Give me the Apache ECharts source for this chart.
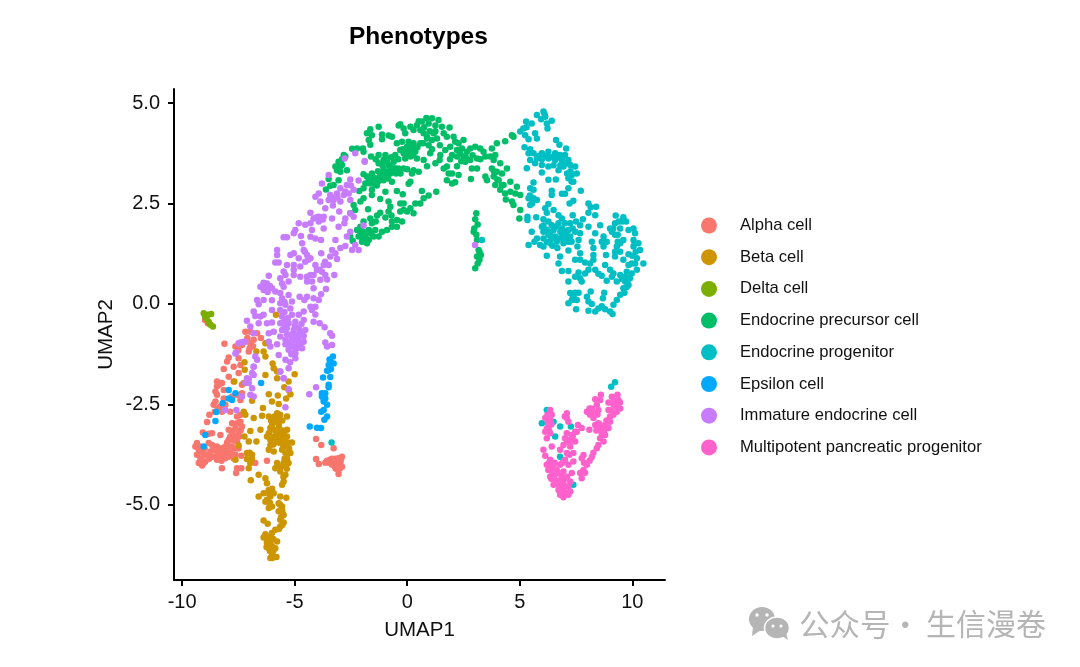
<!DOCTYPE html>
<html>
<head>
<meta charset="utf-8">
<style>html,body{margin:0;padding:0;background:#fff}#chart{width:1080px;height:667px}</style>
<script src="https://cdn.jsdelivr.net/npm/echarts@6/dist/echarts.min.js"></script>
</head>
<body>
<div id="chart"></div>
<script>
// UMAP embedding of pancreatic cells, one array of [UMAP1, UMAP2] per phenotype.
const alphaCell = [[-9.34,-3.46],[-9.41,-3.55],[-9.26,-3.63],[-9.34,-3.75],[-9.19,-3.88],[-9.26,-3.96],[-9.04,-3.96],[-9.11,-4.02],[-8.97,-3.92],[-8.82,-3.46],[-8.67,-3.51],[-8.60,-3.59],[-8.74,-3.67],[-8.67,-3.80],[-8.52,-3.80],[-8.45,-3.88],[-8.30,-3.80],[-8.23,-3.59],[-8.08,-3.55],[-8.00,-3.67],[-7.86,-3.71],[-7.78,-3.55],[-7.63,-3.75],[-8.08,-3.84],[-8.23,-4.09],[-7.56,-4.09],[-7.37,-4.09],[-7.60,-4.21],[-7.37,-3.78],[-7.71,-3.84],[-7.93,-3.38],[-7.86,-3.30],[-7.78,-3.17],[-7.63,-3.09],[-7.56,-2.97],[-7.41,-2.93],[-7.34,-3.05],[-7.63,-3.30],[-7.56,-3.42],[-7.93,-3.13],[-7.78,-2.97],[-8.30,-3.26],[-8.67,-3.22],[-8.82,-3.23],[-9.08,-3.20],[-8.89,-2.94],[-8.79,-2.76],[-8.55,-2.68],[-8.23,-2.68],[-7.86,-2.68],[-8.60,-2.51],[-8.52,-2.43],[-8.30,-2.55],[-8.08,-2.51],[-8.45,-2.26],[-8.52,-2.18],[-8.37,-2.01],[-8.23,-1.97],[-8.45,-1.93],[-8.15,-2.14],[-7.93,-1.81],[-7.71,-1.93],[-8.15,-1.62],[-7.71,-1.56],[-8.00,-1.43],[-7.93,-1.33],[-7.49,-1.35],[-7.41,-1.52],[-7.49,-1.72],[-7.34,-2.01],[-7.34,-2.22],[-7.56,-2.26],[-7.78,-2.30],[-7.63,-1.06],[-7.34,-1.02],[-6.97,-0.98],[-7.04,-1.18],[-7.19,-0.69],[-6.97,-0.69],[-6.67,-0.73],[-6.82,-0.89],[-8.12,-0.99],[-7.41,-2.76],[-7.56,-2.80],[-6.23,-3.90],[-6.75,-3.96],[-7.41,-2.39],[-8.15,-2.35],[-9.04,-3.75],[-8.37,-3.63],[-8.45,-3.55],[-8.15,-3.71],[-7.49,-3.17],[-4.05,-3.36],[-3.82,-3.51],[-3.27,-3.59],[-4.05,-3.86],[-3.93,-3.98],[-3.64,-3.95],[-3.42,-3.88],[-3.27,-3.92],[-3.12,-4.00],[-2.97,-3.96],[-2.90,-3.80],[-3.05,-3.84],[-3.19,-4.09],[-3.05,-4.23],[-2.90,-4.05],[-3.56,-3.90],[-3.34,-4.00],[-8.98,-0.40],[-8.86,-0.48],[-9.2,-3.55],[-9.1,-3.7],[-9.0,-3.6],[-8.9,-3.75],[-8.8,-3.85],[-8.55,-3.65],[-8.4,-3.7],[-8.2,-3.75],[-8.25,-3.9],[-7.95,-3.8],[-7.9,-3.55],[-7.7,-3.6],[-7.5,-3.6],[-7.7,-3.4],[-7.75,-3.25],[-7.45,-3.3],[-7.4,-3.15],[-9.15,-3.85],[-8.0,-3.45],[-7.1,-0.85],[-7.0,-1.1],[-6.85,-1.05],[-6.5,-0.85],[-7.5,-1.15],[-8.4,-2.6],[-8.45,-2.05],[-3.2,-3.85],[-3.1,-3.9],[-3.15,-4.1],[-3.0,-4.1],[-2.95,-3.88],[-3.35,-3.85],[-3.45,-3.95]];
const betaCell = [[-5.83,-0.27],[-6.30,-0.98],[-6.70,-1.18],[-6.38,-1.18],[-6.30,-1.31],[-7.23,-1.45],[-7.22,-1.64],[-5.98,-1.48],[-5.93,-1.60],[-5.78,-1.68],[-5.78,-1.85],[-6.30,-1.77],[-5.00,-1.75],[-5.27,-1.93],[-5.46,-2.07],[-5.27,-2.14],[-5.19,-2.25],[-5.38,-2.35],[-6.15,-2.25],[-5.75,-2.28],[-6.01,-2.43],[-5.71,-2.49],[-7.68,-1.93],[-7.26,-1.97],[-6.89,-2.41],[-7.26,-2.68],[-7.19,-2.76],[-6.82,-2.84],[-6.41,-2.59],[-6.45,-2.78],[-6.15,-2.80],[-5.78,-2.72],[-5.64,-2.76],[-5.93,-2.88],[-5.34,-2.80],[-5.71,-2.97],[-6.08,-3.09],[-5.93,-3.13],[-6.52,-3.13],[-6.97,-3.16],[-7.23,-3.30],[-7.04,-3.42],[-6.70,-3.42],[-7.49,-3.52],[-7.63,-3.88],[-7.12,-3.71],[-6.89,-3.75],[-7.12,-3.86],[-6.97,-3.96],[-7.04,-4.09],[-6.08,-3.38],[-5.93,-3.30],[-5.64,-3.26],[-5.34,-3.13],[-5.49,-3.22],[-5.41,-3.42],[-5.12,-3.45],[-5.64,-3.46],[-6.15,-3.63],[-5.93,-3.67],[-5.56,-3.63],[-5.41,-3.71],[-5.19,-3.71],[-5.34,-3.84],[-5.27,-3.96],[-5.49,-4.00],[-5.78,-3.96],[-5.86,-4.09],[-5.64,-4.17],[-5.41,-4.25],[-5.49,-4.42],[-5.56,-4.50],[-6.60,-4.25],[-6.30,-4.34],[-6.23,-4.46],[-6.95,-4.39],[-6.15,-4.63],[-6.38,-4.71],[-6.60,-4.79],[-6.08,-4.79],[-5.93,-4.71],[-5.64,-4.79],[-5.37,-4.82],[-6.23,-4.87],[-6.15,-5.08],[-6.01,-5.04],[-5.71,-4.96],[-5.56,-5.04],[-5.71,-5.16],[-5.49,-5.25],[-5.64,-5.37],[-5.49,-5.44],[-6.38,-5.39],[-6.20,-5.47],[-5.64,-5.54],[-5.86,-5.62],[-6.01,-5.70],[-6.30,-5.73],[-6.38,-5.81],[-6.23,-5.91],[-6.08,-5.95],[-5.78,-5.91],[-6.15,-6.08],[-5.86,-6.08],[-6.01,-6.20],[-6.08,-6.32],[-5.81,-6.30],[-6.23,-3.30],[-6.01,-3.42],[-5.34,-3.30],[-5.34,-3.55],[-5.71,-3.01],[-5.49,-3.96],[-5.90,-2.80],[-5.81,-2.93],[-6.01,-3.01],[-6.08,-3.51],[-5.78,-3.34],[-6.15,-3.22],[-6.23,-5.95],[-6.01,-6.03],[-6.30,-4.92],[-5.7,-3.1],[-5.8,-3.2],[-5.55,-3.15],[-5.6,-3.35],[-5.85,-3.45],[-5.95,-3.5],[-5.5,-3.55],[-5.3,-3.45],[-5.25,-3.6],[-5.75,-2.85],[-5.55,-2.9],[-6.05,-2.9],[-5.45,-3.85],[-5.6,-4.05],[-5.35,-4.1],[-5.5,-4.3],[-6.2,-4.7],[-6.0,-4.6],[-6.1,-4.95],[-5.65,-5.0],[-5.55,-5.15],[-5.6,-5.3],[-5.55,-5.5],[-5.7,-5.6],[-6.15,-5.8],[-5.95,-5.85],[-6.1,-6.15],[-5.95,-6.15],[-5.9,-6.3],[-6.25,-6.05],[-6.0,-6.32],[-6.9,-3.85],[-7.0,-3.7]];
const deltaCell = [[-9.04,-0.23],[-8.86,-0.27],[-8.71,-0.25],[-8.92,-0.36],[-8.82,-0.44],[-8.74,-0.52],[-8.63,-0.56],[-8.98,-0.31]];
const endocrinePrecursor = [[0.85,4.63],[1.10,4.62],[1.39,4.58],[0.65,4.54],[0.95,4.49],[1.25,4.44],[1.54,4.41],[1.88,4.39],[-0.31,4.47],[-0.38,4.44],[-0.16,4.37],[0.14,4.41],[0.51,4.55],[0.43,4.45],[0.28,4.33],[-0.09,4.25],[0.58,4.33],[-1.27,4.41],[-1.64,4.35],[-1.79,4.25],[-1.57,4.20],[-1.71,4.08],[-1.64,3.96],[-1.12,4.22],[-1.12,4.10],[-0.83,4.19],[-0.68,4.16],[-0.46,4.00],[0.06,4.04],[0.28,4.00],[-0.23,4.04],[0.73,4.25],[0.88,4.16],[1.17,4.25],[1.62,4.25],[1.76,4.16],[2.06,4.16],[2.13,4.04],[2.28,4.00],[2.50,4.08],[1.32,4.12],[1.10,4.08],[0.88,4.12],[0.58,4.00],[-0.01,3.91],[0.21,3.91],[0.06,3.83],[0.36,3.79],[-0.31,3.83],[-0.16,3.75],[1.02,3.75],[0.73,3.58],[0.43,3.62],[0.14,3.67],[-0.09,3.62],[-0.53,3.71],[-1.27,3.71],[-0.97,3.71],[-1.05,3.58],[-0.60,3.54],[-1.27,3.50],[-0.83,3.46],[-0.38,3.37],[-0.16,3.37],[-0.68,3.33],[0.28,3.33],[0.51,3.29],[0.21,3.25],[0.88,3.43],[1.25,3.50],[1.44,3.58],[1.47,3.71],[1.69,3.83],[1.91,3.91],[2.21,3.83],[2.43,3.87],[1.99,3.71],[2.21,3.67],[2.50,3.67],[2.65,3.79],[2.80,3.87],[3.02,3.91],[3.24,3.87],[3.39,3.79],[3.47,3.67],[3.10,3.62],[2.80,3.58],[2.58,3.54],[2.21,3.43],[1.76,3.42],[1.62,3.37],[3.10,3.37],[2.87,3.37],[1.84,3.25],[1.99,3.25],[2.28,3.21],[2.83,3.11],[1.76,3.08],[1.99,3.00],[2.13,3.03],[-1.94,3.23],[-1.57,3.25],[-1.79,3.17],[-1.42,3.13],[-1.20,3.21],[-0.97,3.17],[-0.90,3.29],[-1.86,3.00],[-1.64,3.00],[-1.42,2.96],[-1.57,2.84],[-1.94,2.88],[-1.57,2.71],[-1.27,3.08],[-1.05,3.08],[-0.68,3.04],[0.14,3.04],[0.06,2.99],[-0.97,2.79],[-0.46,2.81],[-0.20,2.73],[0.65,2.81],[1.29,2.79],[0.95,2.70],[0.73,2.63],[0.58,2.50],[0.36,2.50],[-0.31,2.50],[-0.16,2.50],[-0.83,2.55],[-0.75,2.42],[-1.20,2.61],[-1.94,2.63],[-2.08,2.55],[-2.38,2.46],[-2.31,2.34],[-2.13,2.81],[-1.74,2.36],[-1.20,2.27],[-1.34,2.20],[-0.83,2.30],[-0.97,2.15],[-0.31,2.30],[-0.16,2.34],[-0.01,2.30],[0.14,2.38],[0.28,2.26],[-0.46,2.09],[-0.23,2.05],[-0.68,2.05],[-2.53,2.26],[-1.64,2.13],[-1.57,2.01],[-1.94,2.05],[-2.08,1.92],[-2.23,1.84],[-2.01,1.80],[-1.71,1.84],[-1.42,1.84],[-1.12,1.80],[-0.90,1.84],[-0.68,1.92],[-0.46,1.92],[-2.16,1.68],[-1.94,1.63],[-1.71,1.59],[-1.49,1.68],[-1.27,1.68],[-2.01,1.55],[-1.79,1.51],[-2.53,1.68],[-2.42,1.57],[-3.05,3.08],[-3.27,2.96],[-3.42,2.94],[-3.61,2.85],[-3.49,3.11],[-3.05,3.54],[-3.19,3.42],[-2.90,3.46],[-3.12,3.33],[-2.97,3.29],[-2.68,3.33],[-2.82,3.71],[-2.45,3.86],[-2.23,3.87],[-1.97,3.87],[-1.94,3.79],[-1.61,3.67],[-2.75,3.67],[3.76,3.87],[3.98,4.00],[4.35,4.05],[4.65,4.20],[4.72,4.16],[3.69,3.67],[3.91,3.71],[4.13,3.50],[3.76,3.37],[3.98,3.29],[4.43,3.37],[3.84,3.17],[4.06,3.08],[4.28,2.96],[4.58,3.04],[3.91,2.96],[4.13,2.84],[4.35,2.75],[4.58,2.79],[4.87,2.92],[4.80,2.75],[5.02,2.71],[4.38,2.60],[4.65,2.55],[4.72,2.46],[5.02,2.34],[4.98,2.13],[3.47,3.17],[3.54,3.08],[4.21,3.25],[3.84,3.58],[3.07,2.26],[3.02,2.11],[3.13,1.98],[2.98,1.88],[2.95,1.80],[3.07,1.72],[3.10,1.59],[3.17,1.34],[3.27,1.22],[3.10,1.18],[3.21,1.10],[3.13,1.01],[3.02,0.89],[3.21,1.30],[-1.05,3.35],[-0.50,3.25],[-1.30,3.30],[-1.60,3.05],[-0.20,3.85],[0.25,3.70],[0.10,3.95],[-0.90,3.55],[-0.75,3.40],[0.95,3.95],[1.10,3.85],[2.35,3.75],[2.60,3.65],[-1.35,2.95],[-1.7,3.1],[-1.5,3.15],[-1.3,3.05],[-1.15,3.15],[-1.0,3.25],[-0.85,3.12],[-0.75,3.25],[-0.55,3.38],[-0.3,3.25],[0.0,3.35],[-1.1,3.45],[-0.95,3.65],[-0.7,3.65],[-0.4,3.6],[-1.4,3.6],[0.05,3.75],[-0.05,3.85],[0.25,3.85],[0.45,3.9],[0.7,4.0],[0.75,4.4],[1.0,4.3],[1.25,4.3],[1.45,3.95],[1.9,3.6],[2.4,3.55],[2.9,3.7],[3.25,3.6],[-1.95,1.8],[-1.85,1.7],[-1.6,1.75],[-2.1,1.7],[-1.4,2.05],[-0.7,2.2],[-2.9,3.6],[-3.0,3.4],[4.0,3.1],[4.2,2.95],[3.85,3.3]];
const endocrineProgenitor = [[6.05,4.79],[5.76,4.70],[6.13,4.66],[6.42,4.56],[6.20,4.49],[6.23,4.37],[5.28,4.54],[5.53,4.49],[5.16,4.37],[5.02,4.29],[5.24,4.20],[5.68,4.25],[5.39,4.10],[5.76,4.12],[6.61,4.08],[6.76,3.96],[7.06,3.87],[5.21,3.90],[5.46,3.85],[5.39,3.75],[5.61,3.75],[5.98,3.75],[6.27,3.79],[6.57,3.75],[6.79,3.71],[7.01,3.71],[7.16,3.58],[5.76,3.62],[5.98,3.60],[6.27,3.62],[6.57,3.58],[6.87,3.58],[5.46,3.58],[5.68,3.50],[5.98,3.46],[5.31,3.38],[6.27,3.42],[6.72,3.33],[6.94,3.42],[7.24,3.46],[7.46,3.42],[7.53,3.25],[7.31,3.21],[7.16,3.13],[7.38,3.04],[5.98,3.27],[6.27,3.09],[6.60,3.10],[5.61,3.02],[5.46,2.88],[5.61,2.84],[7.16,2.88],[6.87,2.74],[7.01,2.74],[6.42,2.82],[6.42,2.71],[7.71,2.82],[5.39,2.63],[5.61,2.63],[5.76,2.59],[5.46,2.46],[7.38,2.57],[7.21,2.50],[6.27,2.49],[8.05,2.50],[8.39,2.42],[8.15,2.41],[8.05,2.27],[8.35,2.21],[6.13,2.38],[6.20,2.27],[6.50,2.34],[6.72,2.21],[6.87,2.13],[5.34,2.17],[5.34,2.09],[5.73,2.16],[7.35,2.21],[7.80,2.11],[7.50,2.05],[6.05,2.11],[6.27,2.05],[5.98,1.92],[6.42,1.96],[6.72,2.01],[7.01,2.01],[7.24,2.01],[7.68,1.96],[8.05,1.92],[8.57,1.96],[9.26,2.20],[9.60,2.16],[9.72,2.05],[9.23,2.01],[9.01,1.88],[9.09,1.80],[9.46,1.88],[9.83,1.84],[10.05,1.88],[10.12,1.76],[5.53,1.80],[6.05,1.80],[6.50,1.84],[6.87,1.88],[7.16,1.84],[7.46,1.80],[7.68,1.76],[8.35,1.76],[5.76,1.63],[6.05,1.63],[6.27,1.72],[6.57,1.68],[6.87,1.72],[7.24,1.68],[7.61,1.59],[8.72,1.68],[9.23,1.72],[9.46,1.51],[10.05,1.59],[10.27,1.51],[10.34,1.34],[5.39,1.47],[5.90,1.47],[6.35,1.51],[6.64,1.55],[6.94,1.51],[7.16,1.55],[8.20,1.55],[8.64,1.55],[8.86,1.55],[9.31,1.43],[9.60,1.59],[10.05,1.43],[6.05,1.43],[6.67,1.39],[7.16,1.33],[7.56,1.43],[8.27,1.39],[8.72,1.43],[9.23,1.30],[9.46,1.30],[7.68,1.26],[6.20,1.20],[6.79,1.18],[8.27,1.22],[8.83,1.22],[9.83,1.24],[10.20,1.14],[10.49,1.01],[9.23,1.18],[9.60,1.10],[9.97,1.01],[6.72,1.01],[7.46,1.10],[7.68,1.10],[7.90,1.03],[8.27,1.10],[8.12,1.01],[8.79,0.97],[9.83,0.97],[10.12,1.01],[10.20,0.85],[6.87,0.82],[7.16,0.82],[7.61,0.78],[8.05,0.85],[8.35,0.85],[7.90,0.76],[8.49,0.75],[9.01,0.85],[9.16,0.76],[8.64,0.70],[9.75,0.80],[9.97,0.76],[7.46,0.68],[7.68,0.64],[9.46,0.72],[9.09,0.68],[9.90,0.64],[7.75,0.56],[7.16,0.56],[8.86,0.58],[9.31,0.56],[9.68,0.56],[9.83,0.47],[9.60,0.39],[9.65,0.28],[7.24,0.27],[7.46,0.28],[7.61,0.28],[7.38,0.18],[7.31,0.10],[7.53,0.10],[7.16,0.02],[8.15,0.31],[7.98,0.18],[8.75,0.28],[9.46,0.23],[9.31,0.10],[8.05,0.06],[8.20,0.00],[8.69,0.14],[9.16,-0.02],[8.64,-0.06],[8.49,-0.11],[8.35,-0.19],[7.50,-0.13],[8.05,-0.17],[8.79,-0.13],[9.01,-0.19],[9.12,-0.25],[6.20,-2.64],[5.98,-2.97],[6.50,-2.93],[6.79,-3.05],[7.27,-3.05],[6.57,-3.30],[6.79,-3.80],[7.38,-4.50],[9.06,-2.06],[9.23,-1.95],[-3.36,-3.45],[3.32,1.59],[6.1,4.72],[5.95,4.6],[5.3,4.4],[6.0,3.65],[6.2,3.68],[6.45,3.66],[6.7,3.65],[6.9,3.65],[7.05,3.5],[6.8,3.45],[6.5,3.45],[5.85,3.68],[7.25,3.3],[7.1,3.25],[7.3,3.05],[6.05,1.95],[6.2,1.85],[6.35,1.78],[6.6,1.92],[6.8,1.8],[7.0,1.82],[7.1,1.7],[7.35,1.88],[7.0,1.6],[6.75,1.62],[6.4,1.62],[6.2,1.55],[6.45,1.45],[5.65,1.55],[7.3,1.55],[9.7,0.68],[9.55,0.62],[9.8,0.6],[9.75,0.42],[10.1,1.5],[10.15,1.3],[10.0,1.2],[9.35,1.55],[9.35,1.72],[9.15,1.88],[9.55,2.05],[9.4,2.05],[5.45,2.7],[5.55,2.5],[7.35,0.22],[7.45,0.12]];
const epsilonCell = [[-3.30,-1.31],[-3.45,-1.38],[-3.27,-1.48],[-3.49,-1.52],[-3.39,-1.62],[-3.56,-1.66],[-3.74,-1.83],[-3.42,-1.82],[-3.49,-2.01],[-3.49,-2.07],[-3.79,-2.22],[-3.64,-2.22],[-3.79,-2.30],[-3.64,-2.35],[-3.71,-2.43],[-3.56,-2.51],[-3.71,-2.64],[-3.82,-2.68],[-3.56,-2.80],[-3.68,-2.88],[-4.33,-3.05],[-4.01,-3.08],[-3.83,-3.09],[-6.49,-1.97],[-7.93,-2.14],[-7.63,-2.22],[-7.93,-2.35],[-7.78,-2.39],[-8.20,-2.47],[-8.48,-2.69],[-8.52,-2.91],[-8.97,-3.26],[-9.04,-3.55],[-3.4,-1.45],[-3.5,-1.65],[-3.7,-2.25],[-3.72,-2.35]];
const immatureEndocrine = [[-1.89,3.54],[-3.49,3.21],[-3.79,3.00],[-2.53,3.10],[-2.16,3.07],[-2.68,2.96],[-2.97,2.88],[-2.38,2.84],[-2.60,2.75],[-2.82,2.71],[-3.12,2.75],[-3.42,2.71],[-3.93,2.75],[-4.08,2.67],[-3.86,2.55],[-3.64,2.38],[-3.49,2.59],[-3.27,2.59],[-2.97,2.55],[-2.53,2.59],[-3.02,2.30],[-4.30,2.27],[-2.53,2.26],[-2.75,2.13],[-2.38,2.17],[-3.71,2.17],[-3.93,2.17],[-4.16,2.13],[-3.93,2.05],[-3.71,1.88],[-4.30,2.01],[-4.53,1.97],[-4.82,2.01],[-4.23,1.84],[-3.34,2.13],[-3.05,1.92],[-2.79,2.01],[-2.53,1.80],[-2.68,1.68],[-2.31,1.47],[-2.45,1.34],[-2.16,1.34],[-4.97,1.84],[-5.04,1.76],[-5.49,1.66],[-5.34,1.66],[-4.72,1.69],[-4.30,1.67],[-4.08,1.63],[-3.83,1.59],[-3.19,1.59],[-4.67,1.51],[-2.75,1.44],[-2.97,1.39],[-3.34,1.34],[-3.19,1.26],[-3.42,1.18],[-3.12,1.12],[-3.82,1.26],[-5.78,1.34],[-5.78,1.22],[-5.86,1.03],[-5.71,1.03],[-5.19,1.22],[-5.04,1.26],[-4.60,1.34],[-4.45,1.22],[-4.82,1.14],[-4.53,1.05],[-4.30,1.14],[-5.34,0.97],[-5.04,0.97],[-4.75,0.93],[-5.04,0.85],[-4.75,0.68],[-5.04,0.72],[-5.49,0.81],[-5.41,0.72],[-3.71,0.97],[-3.49,0.97],[-4.08,0.97],[-4.01,0.85],[-3.79,0.80],[-3.64,0.72],[-4.30,0.72],[-4.16,0.72],[-4.45,0.68],[-4.45,0.56],[-4.23,0.56],[-3.86,0.60],[-3.24,0.72],[-3.56,0.61],[-4.16,0.39],[-3.61,0.37],[-3.83,0.24],[-6.15,0.70],[-6.38,0.53],[-6.52,0.43],[-6.23,0.51],[-6.30,0.39],[-6.01,0.39],[-5.64,0.64],[-5.56,0.51],[-5.27,0.56],[-5.49,0.43],[-5.86,0.31],[-5.64,0.27],[-6.38,0.35],[-5.56,0.14],[-5.27,0.22],[-4.78,0.18],[-4.45,0.18],[-4.57,0.10],[-4.16,0.14],[-3.93,0.10],[-4.30,-0.07],[-4.08,-0.07],[-4.23,-0.15],[-4.08,-0.26],[-6.67,0.10],[-6.60,-0.01],[-6.38,0.10],[-6.01,0.09],[-5.64,0.02],[-5.41,-0.02],[-5.12,0.06],[-5.19,-0.11],[-5.64,-0.15],[-6.82,-0.19],[-6.75,-0.30],[-6.52,-0.31],[-6.38,-0.27],[-6.01,-0.15],[-5.56,-0.31],[-5.41,-0.40],[-5.12,-0.27],[-4.82,-0.27],[-4.60,-0.19],[-7.12,-0.42],[-6.97,-0.56],[-6.60,-0.48],[-6.23,-0.48],[-6.01,-0.46],[-5.64,-0.48],[-5.27,-0.48],[-4.97,-0.44],[-4.60,-0.40],[-4.16,-0.44],[-3.89,-0.48],[-3.67,-0.58],[-3.42,-0.73],[-3.34,-0.79],[-3.64,-0.96],[-3.34,-1.02],[-3.56,-1.06],[-6.15,-0.73],[-5.93,-0.69],[-6.82,-0.73],[-5.56,-0.65],[-5.34,-0.60],[-5.04,-0.65],[-4.82,-0.60],[-4.53,-0.65],[-5.27,-0.77],[-4.90,-0.77],[-4.67,-0.77],[-5.64,-0.81],[-5.41,-0.89],[-5.12,-0.89],[-4.82,-0.94],[-4.60,-0.94],[-6.15,-0.94],[-6.08,-1.06],[-5.78,-1.00],[-5.41,-1.00],[-5.12,-1.06],[-4.90,-1.10],[-4.67,-1.10],[-4.97,-1.23],[-5.27,-1.14],[-5.71,-1.27],[-5.41,-1.39],[-4.97,-1.35],[-5.27,-1.60],[-5.64,-1.68],[-6.75,-1.31],[-6.82,-1.56],[-6.89,-1.72],[-5.49,-1.85],[-7.12,-1.85],[-7.26,-0.94],[-7.49,-0.98],[-7.63,-1.23],[-4.05,-2.07],[-4.35,-2.25],[-5.41,-2.57],[-5.64,-1.68],[-5.49,-1.85],[-5.27,-2.12],[-8.08,-2.64],[-7.59,-2.64],[-7.04,-1.87],[-7.19,-1.97],[-6.89,-2.10],[-6.97,-2.26],[-7.34,-2.30],[-6.82,-2.30],[-7.60,-1.21],[-7.41,-0.96],[-7.19,-0.94],[-6.82,-1.56],[-6.82,-1.77],[-7.04,-1.97],[-6.67,-1.39],[-2.31,3.75],[-1.89,3.56],[-2.78,3.62],[-1.94,1.95],[3.01,1.47],[-5.1,-0.75],[-5.0,-0.9],[-4.85,-0.85],[-4.75,-0.7],[-5.2,-1.0],[-5.0,-1.05],[-4.75,-1.0],[-4.6,-0.8],[-5.35,-0.75],[-5.25,-0.95],[-5.0,-1.2],[-5.15,-1.25],[-5.45,-0.55],[-5.5,-0.45],[-5.3,-0.35],[-5.45,-0.2],[-5.55,-0.2],[-5.0,-0.55],[-4.7,-0.5],[-5.45,0.05],[-4.55,1.3],[-4.4,1.1],[-3.35,2.65],[-3.1,2.65],[-3.3,2.45],[-2.75,2.8],[-2.5,2.95],[-3.75,2.1],[-4.05,2.15],[-3.65,1.05],[-3.9,0.85],[-6.1,0.45],[-6.2,0.3],[-5.2,-1.45]];
const multipotentProgenitor = [[8.60,-2.26],[8.35,-2.37],[8.57,-2.39],[9.09,-2.31],[9.34,-2.26],[9.38,-2.39],[8.94,-2.45],[9.16,-2.51],[9.46,-2.60],[8.42,-2.51],[7.98,-2.68],[8.20,-2.60],[8.49,-2.64],[8.94,-2.64],[9.31,-2.68],[9.16,-2.76],[8.12,-2.76],[8.27,-2.84],[9.01,-2.80],[6.35,-2.64],[6.23,-2.76],[6.42,-2.76],[6.13,-2.84],[7.09,-2.72],[7.09,-2.84],[7.16,-2.93],[9.01,-2.93],[8.35,-3.01],[8.49,-2.97],[8.79,-3.01],[8.94,-3.09],[6.27,-3.05],[6.13,-3.18],[6.35,-3.22],[6.20,-3.34],[7.58,-3.01],[7.75,-3.09],[8.09,-3.13],[7.46,-3.18],[7.31,-3.26],[7.09,-3.22],[8.49,-3.13],[8.64,-3.22],[8.79,-3.26],[8.57,-3.34],[7.01,-3.34],[7.24,-3.38],[7.46,-3.42],[6.42,-3.55],[6.94,-3.51],[7.24,-3.55],[8.72,-3.42],[8.49,-3.51],[6.05,-3.63],[6.13,-3.78],[6.79,-3.63],[8.42,-3.59],[8.27,-3.70],[7.38,-3.71],[7.09,-3.71],[7.83,-3.76],[7.75,-3.84],[8.20,-3.81],[6.35,-3.88],[7.01,-3.88],[7.38,-3.92],[6.20,-4.00],[6.50,-4.00],[6.79,-4.00],[7.16,-4.00],[7.98,-4.00],[6.27,-4.13],[6.64,-4.13],[6.94,-4.17],[7.31,-4.21],[7.83,-4.13],[7.68,-4.21],[6.35,-4.30],[6.57,-4.38],[7.01,-4.34],[6.72,-4.50],[6.94,-4.46],[7.75,-4.34],[7.24,-4.42],[6.50,-4.50],[7.16,-4.54],[6.72,-4.63],[6.94,-4.67],[7.24,-4.67],[6.79,-4.75],[6.94,-4.81],[7.16,-4.75],[7.53,-3.18],[6.3,-3.15],[6.25,-2.95],[6.35,-2.9],[6.2,-3.1],[6.4,-3.0],[6.7,-4.2],[6.85,-4.3],[7.1,-4.3],[6.8,-4.4],[7.0,-4.55],[6.85,-4.55],[7.05,-4.7],[6.85,-4.7],[6.55,-4.25],[6.45,-4.2],[6.4,-4.1],[6.55,-3.95],[6.9,-3.95],[7.2,-3.75],[7.2,-3.45],[7.35,-3.3],[7.1,-3.4],[8.65,-3.1],[8.75,-3.15],[8.4,-3.15],[8.55,-3.0],[8.85,-2.9],[9.05,-2.65],[9.2,-2.4],[9.3,-2.55],[9.45,-2.45],[8.1,-2.6],[8.3,-2.7],[8.45,-2.75],[7.85,-3.95],[7.9,-4.2],[8.1,-3.9],[6.3,-3.95],[6.4,-4.35],[7.0,-2.8]];

const phenotypeNames = ['Alpha cell','Beta cell','Delta cell','Endocrine precursor cell','Endocrine progenitor','Epsilon cell','Immature endocrine cell','Multipotent pancreatic progenitor'];
const phenotypePoints = [alphaCell,betaCell,deltaCell,endocrinePrecursor,endocrineProgenitor,epsilonCell,immatureEndocrine,multipotentProgenitor];
const phenotypeColors = ['#F8766D','#CD9600','#7CAE00','#00BE67','#00BFC4','#00A9FF','#C77CFF','#FF61CC'];
const xTicks = [-10,-5,0,5,10];
const yTicks = [-5,-2.5,0,2.5,5];

const FONT = '"Liberation Sans", Arial, sans-serif';
const axisShared = {
  type:'value', splitLine:{show:false}, nameLocation:'middle',
  axisLine:{show:true, onZero:false, lineStyle:{color:'#000', width:2}},
  axisTick:{show:true, inside:false, length:6, lineStyle:{color:'#000', width:2}},
  nameTextStyle:{fontFamily:FONT, fontSize:20.5, color:'#111'}
};

const chart = echarts.init(document.getElementById('chart'), null, {renderer:'canvas'});
chart.setOption({
  animation:false,
  backgroundColor:'#fff',
  title:{text:'Phenotypes', left:344, top:20, textStyle:{fontFamily:FONT, fontWeight:'bold', fontSize:24.5, color:'#000'}},
  grid:{left:174, right:415, top:89, bottom:87},
  xAxis:Object.assign({}, axisShared, {
    min:-10.36, max:11.45, name:'UMAP1', nameGap:40,
    axisTick:Object.assign({}, axisShared.axisTick, {customValues:xTicks}),
    axisLabel:{customValues:xTicks, fontFamily:FONT, fontSize:20, color:'#111', margin:12}
  }),
  yAxis:Object.assign({}, axisShared, {
    min:-6.87, max:5.35, name:'UMAP2', nameGap:57,
    axisTick:Object.assign({}, axisShared.axisTick, {customValues:yTicks}),
    axisLabel:{customValues:yTicks, fontFamily:FONT, fontSize:20, color:'#111', margin:14, formatter:v=>Number(v).toFixed(1)}
  }),
  legend:{
    orient:'vertical', left:696, top:212, icon:'circle', itemWidth:16, itemHeight:16, itemGap:14.7,
    selectedMode:false,
    textStyle:{fontFamily:FONT, fontSize:16.6, color:'#111', padding:[0,0,0,18]},
    data:phenotypeNames
  },
  series:phenotypeNames.map((name,i)=>({
    name, type:'scatter', data:phenotypePoints[i], symbol:'circle', symbolSize:6.5,
    itemStyle:{color:phenotypeColors[i], opacity:1},
    emphasis:{disabled:true}
  })),
  graphic:[
    {type:'group', silent:true, children:[
      {type:'ellipse', shape:{cx:762,cy:619,rx:13,ry:12}, style:{fill:'#b5b5b5'}},
      {type:'polygon', shape:{points:[[753,627],[752,636],[761,630]]}, style:{fill:'#b5b5b5'}},
      {type:'ellipse', shape:{cx:777,cy:628,rx:12.5,ry:11}, style:{fill:'#b5b5b5', stroke:'#fff', lineWidth:1.5}},
      {type:'polygon', shape:{points:[[782,636],[788,640],[786,632]]}, style:{fill:'#b5b5b5'}},
      {type:'circle', shape:{cx:757,cy:615,r:1.7}, style:{fill:'#fff'}},
      {type:'circle', shape:{cx:767,cy:615,r:1.7}, style:{fill:'#fff'}},
      {type:'circle', shape:{cx:773,cy:626,r:1.5}, style:{fill:'#fff'}},
      {type:'circle', shape:{cx:781,cy:626,r:1.5}, style:{fill:'#fff'}},
      {type:'text', style:{x:799, y:624, text:'公众号', fill:'#b5b5b5', font:'30.5px "Noto Sans CJK SC"', textVerticalAlign:'middle'}},
      {type:'text', style:{x:890, y:624, text:'·', fill:'#b5b5b5', font:'30.5px "Noto Sans CJK SC"', textVerticalAlign:'middle'}},
      {type:'text', style:{x:926, y:624, text:'生信漫卷', fill:'#b5b5b5', font:'30px "Noto Sans CJK SC"', textVerticalAlign:'middle'}}
    ]}
  ]
});
</script>
</body>
</html>
